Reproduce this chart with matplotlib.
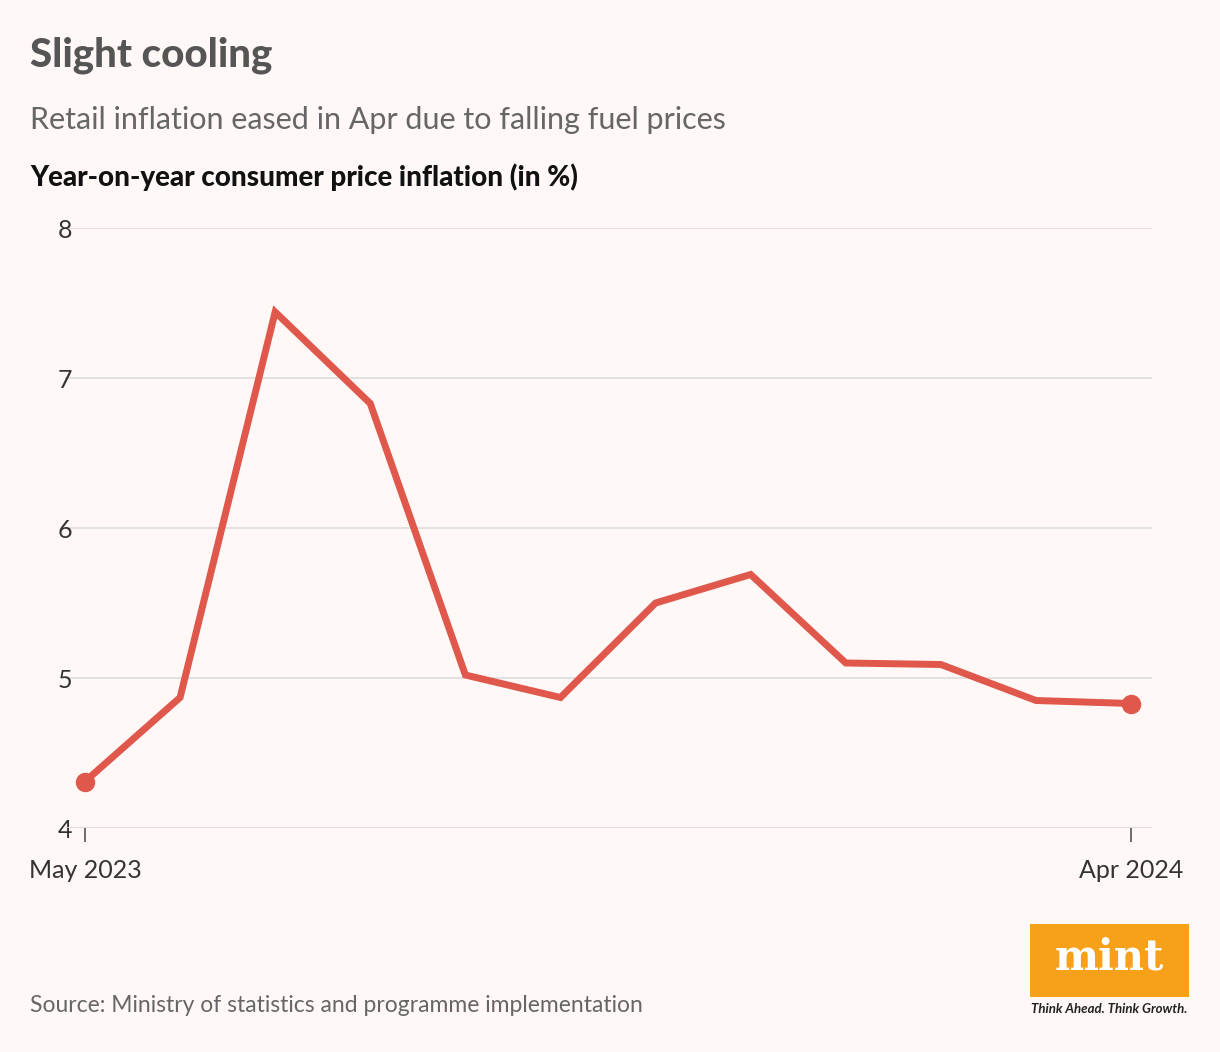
import matplotlib
matplotlib.use("Agg")
import matplotlib.pyplot as plt
from matplotlib.patches import Rectangle

months = ["May 2023","Jun","Jul","Aug","Sep","Oct","Nov","Dec","Jan","Feb","Mar","Apr 2024"]
inflation = [4.31, 4.87, 7.44, 6.83, 5.02, 4.87, 5.50, 5.69, 5.10, 5.09, 4.85, 4.83]
yticks = [4, 5, 6, 7, 8]

bg = "#FFF8F6"
red = "#E0574B"
plt.rcParams['font.family'] = ['Lato', 'DejaVu Sans']

fig = plt.figure(figsize=(12.2, 10.52), dpi=100, facecolor=bg)
ax = fig.add_axes([65/1220, 1-828/1052, (1152-65)/1220, 600/1052], facecolor=bg)
x = list(range(len(months)))
ax.plot(x, inflation, color=red, lw=5, solid_joinstyle='miter', zorder=3)
ax.plot([x[0], x[-1]], [inflation[0], inflation[-1]], 'o', color=red, ms=13, zorder=4)
ax.set_ylim(4, 8)
ax.set_xlim(-0.21, 11.22)
ax.set_yticks(yticks)
ax.set_yticklabels([str(t) for t in yticks], fontsize=18, color="#333333")
ax.grid(axis='y', color="#DDDDDD", lw=1.2)
ax.set_axisbelow(True)
for s in ax.spines.values():
    s.set_visible(False)
ax.tick_params(axis='y', length=0, pad=-5)
for l in ax.get_yticklabels():
    l.set_horizontalalignment('right')
ax.set_xticks([0, 11])
ax.set_xticklabels([months[0], months[-1]], fontsize=18, color="#333333")
ax.tick_params(axis='x', length=10, width=1.2, color="#555555", pad=12)
ax.axhline(4, color="#DDDDDD", lw=1.2)

fig.text(30/1220, 1-55/1052, "Slight cooling", fontsize=29, fontweight='black', color="#555555", va='center')
fig.text(30/1220, 1-120/1052, "Retail inflation eased in Apr due to falling fuel prices", fontsize=22, color="#666666", va='center')
fig.text(30/1220, 1-177/1052, "Year-on-year consumer price inflation (in %)", fontsize=20, fontweight='black', color="#111111", va='center')
fig.text(30/1220, 1-1005/1052, "Source: Ministry of statistics and programme implementation", fontsize=16.5, color="#666666", va='center')

fig.patches.append(Rectangle((1030/1220, 1-997/1052), 159/1220, 73/1052, transform=fig.transFigure, facecolor="#F7A11A", edgecolor='none'))
fig.text(1109/1220, 1-958/1052, "mint", fontsize=30, fontweight='bold', color="white", ha='center', va='center', family=['DejaVu Serif'])
fig.text(1109/1220, 1-1009/1052, "Think Ahead. Think Growth.", fontsize=9.5, style='italic', fontweight='bold', color="#222222", ha='center', va='center')

fig.savefig("out.png", dpi=100, facecolor=bg)
